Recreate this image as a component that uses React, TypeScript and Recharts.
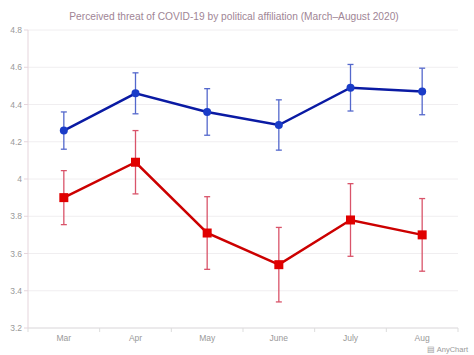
import { LineChart, Line, XAxis, YAxis, CartesianGrid, ErrorBar } from 'recharts'

const months = ['Mar', 'Apr', 'May', 'June', 'July', 'Aug']
const democrats = [4.26, 4.46, 4.36, 4.29, 4.49, 4.47]
const democratsErr = [[0.10, 0.10], [0.11, 0.11], [0.125, 0.125], [0.135, 0.135], [0.125, 0.125], [0.125, 0.125]]
const republicans = [3.90, 4.09, 3.71, 3.54, 3.78, 3.70]
const republicansErr = [[0.145, 0.145], [0.17, 0.17], [0.195, 0.195], [0.20, 0.20], [0.195, 0.195], [0.195, 0.195]]
const yTicks = [3.2, 3.4, 3.6, 3.8, 4, 4.2, 4.4, 4.6, 4.8]

const data = months.map((m, i) => ({
  month: m,
  dem: democrats[i],
  demErr: democratsErr[i],
  rep: republicans[i],
  repErr: republicansErr[i]
}))

const font = '"Liberation Sans", Arial, sans-serif'

const SquareDot = (props: any) => {
  const { cx, cy } = props
  if (cx == null || cy == null) return null
  return <rect x={cx - 4.5} y={cy - 4.5} width={9} height={9} fill="#e00000" />
}

const XTick = (props: any) => {
  const { x, y, payload, index } = props
  const half = 430 / months.length / 2
  return (
    <g>
      <line x1={x - half} y1={y - 8} x2={x - half} y2={y - 4} stroke="#ddd" />
      {index === months.length - 1 && (
        <line x1={x + half} y1={y - 8} x2={x + half} y2={y - 4} stroke="#ddd" />
      )}
      <text x={x} y={y + 5} textAnchor="middle" fontSize={8.5} fill="#999" fontFamily={font}>
        {payload.value}
      </text>
    </g>
  )
}

export default function App () {
  return (
    <div style={{ position: 'absolute', left: 0, top: 0, width: 474, height: 355, background: '#fff' }}>
      <div style={{
        position: 'absolute',
        top: 11,
        left: 0,
        width: 468,
        textAlign: 'center',
        fontFamily: font,
        fontSize: 10.2,
        color: '#a08595'
      }}>
        Perceived threat of COVID-19 by political affiliation (March–August 2020)
      </div>
      <LineChart
        width={474}
        height={355}
        data={data}
        margin={{ top: 30, right: 16, bottom: 7, left: 0 }}
      >
        <CartesianGrid vertical={false} stroke="#f0eef0" />
        <XAxis
          dataKey="month"
          scale="band"
          height={20}
          tickLine={false}
          axisLine={{ stroke: '#e0dde0' }}
          tick={<XTick />}
          interval={0}
        />
        <YAxis
          width={28}
          domain={[3.2, 4.8]}
          ticks={yTicks}
          tickSize={4}
          tickLine={{ stroke: '#e5d5dc' }}
          axisLine={{ stroke: '#e5d5dc' }}
          tick={{ fontSize: 8.5, fill: '#999', fontFamily: font }}
          tickFormatter={(v: number) => String(v)}
        />
        <Line
          dataKey="dem"
          stroke="#0a1aa3"
          strokeWidth={2.5}
          dot={{ r: 4, fill: '#1a3cc8', stroke: '#1a3cc8', strokeWidth: 0 }}
          isAnimationActive={false}
        >
          <ErrorBar dataKey="demErr" direction="y" width={3} stroke="#5468cc" strokeWidth={1.3} />
        </Line>
        <Line
          dataKey="rep"
          stroke="#cc0000"
          strokeWidth={2.5}
          dot={<SquareDot />}
          isAnimationActive={false}
        >
          <ErrorBar dataKey="repErr" direction="y" width={3} stroke="#d9546a" strokeWidth={1.3} />
        </Line>
      </LineChart>
      <div style={{
        position: 'absolute',
        right: 6,
        bottom: 1,
        fontFamily: font,
        fontSize: 7.5,
        color: '#999'
      }}>
        ▤ AnyChart
      </div>
    </div>
  )
}
